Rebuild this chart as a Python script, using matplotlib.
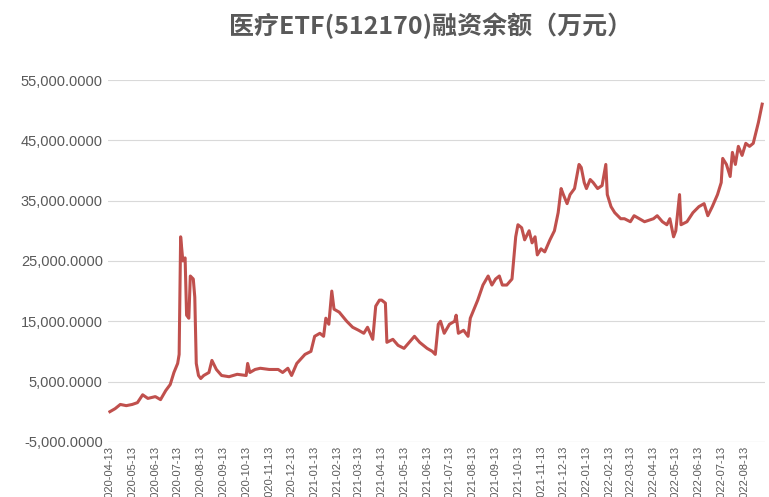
import matplotlib
matplotlib.use("Agg")
import matplotlib.pyplot as plt
import matplotlib.ticker as mticker
import pandas as pd

plt.rcParams['font.family'] = ['Noto Sans CJK SC', 'DejaVu Sans']

dates = ["2020-04-13","2020-04-20","2020-04-27","2020-05-05","2020-05-13","2020-05-20","2020-05-27","2020-06-03","2020-06-13","2020-06-20","2020-06-27","2020-07-03","2020-07-08","2020-07-13","2020-07-15","2020-07-17","2020-07-20","2020-07-23","2020-07-25","2020-07-28","2020-07-30","2020-08-03","2020-08-05","2020-08-07","2020-08-10","2020-08-13","2020-08-17","2020-08-24","2020-08-28","2020-09-03","2020-09-10","2020-09-20","2020-10-01","2020-10-13","2020-10-15","2020-10-18","2020-10-25","2020-11-01","2020-11-13","2020-11-25","2020-12-01","2020-12-08","2020-12-13","2020-12-20","2020-12-31",
"2021-01-08","2021-01-13","2021-01-20","2021-01-25","2021-01-28","2021-02-01","2021-02-05","2021-02-08","2021-02-15","2021-02-25","2021-03-05","2021-03-13","2021-03-20","2021-03-25","2021-04-01","2021-04-05","2021-04-10","2021-04-13","2021-04-18","2021-04-20","2021-04-28","2021-05-05","2021-05-13","2021-05-20","2021-05-27","2021-06-03","2021-06-13","2021-06-20","2021-06-24","2021-06-28","2021-07-01","2021-07-06","2021-07-13","2021-07-20","2021-07-22","2021-07-25","2021-08-01","2021-08-07","2021-08-10","2021-08-15","2021-08-20","2021-08-27","2021-09-03","2021-09-08","2021-09-13","2021-09-18","2021-09-22","2021-09-28","2021-10-05","2021-10-10","2021-10-13","2021-10-18","2021-10-22","2021-10-28","2021-11-01","2021-11-05","2021-11-08","2021-11-13","2021-11-18","2021-11-25","2021-12-01","2021-12-06","2021-12-10","2021-12-13","2021-12-18","2021-12-22","2021-12-28",
"2022-01-03","2022-01-06","2022-01-10","2022-01-13","2022-01-18","2022-01-22","2022-01-28","2022-02-03","2022-02-08","2022-02-10","2022-02-15","2022-02-20","2022-02-28","2022-03-05","2022-03-13","2022-03-18","2022-03-25","2022-04-01","2022-04-13","2022-04-18","2022-04-25","2022-05-01","2022-05-05","2022-05-10","2022-05-13","2022-05-18","2022-05-20","2022-05-28","2022-06-05","2022-06-13","2022-06-20","2022-06-25","2022-07-01","2022-07-08","2022-07-13","2022-07-15","2022-07-20","2022-07-25","2022-07-28","2022-08-01","2022-08-05","2022-08-10","2022-08-15","2022-08-20","2022-08-25","2022-08-28","2022-09-01","2022-09-06"]
values = [0,500,1200,1000,1200,1500,2800,2200,2500,2000,3500,4500,6500,8000,9500,29000,25000,25500,16000,15500,22500,22000,19000,8000,6000,5500,6000,6500,8500,7000,6000,5800,6200,6000,8000,6500,7000,7200,7000,7000,6500,7200,6000,8000,9500,
10000,12500,13000,12500,15500,14500,20000,17000,16500,15000,14000,13500,13000,14000,12000,17500,18500,18500,18000,11500,12000,11000,10500,11500,12500,11500,10500,10000,9500,14500,15000,13000,14500,15000,16000,13000,13500,12500,15500,17000,18500,21000,22500,21000,22000,22500,21000,21000,22000,29000,31000,30500,28500,30000,28000,29000,26000,27000,26500,28500,30000,33000,37000,36000,34500,36000,37000,
41000,40500,38000,37000,38500,38000,37000,37500,41000,36000,34000,33000,32000,32000,31500,32500,32000,31500,32000,32500,31500,31000,32000,29000,30000,36000,31000,31500,33000,34000,34500,32500,34000,36000,38000,42000,41000,39000,43000,41000,44000,42500,44500,44000,44500,46000,48000,51000]
title = "医疗ETF(512170)融资余额（万元）"

x = pd.to_datetime(dates)
fig = plt.figure(figsize=(7.69, 4.97), dpi=100)
ax = fig.add_axes([0.14, 0.111, 0.855, 0.728])
ax.plot(x, values, color="#c0504d", lw=2.2)
ax.set_ylim(-5000, 55000)
ax.set_yticks(range(-5000, 55001, 10000))
ax.yaxis.set_major_formatter(mticker.FuncFormatter(lambda v, p: f"{v:,.4f}"))
ticks = pd.date_range("2020-04-01", "2022-08-13", freq="MS") + pd.Timedelta(days=12)
ax.set_xticks(ticks)
ax.set_xticklabels([t.strftime("%Y-%m-%d") for t in ticks], rotation=90, fontsize=8,
                   color="#595959", family="Liberation Sans")
for lab in ax.get_yticklabels():
    lab.set_family("Liberation Sans")
ax.set_xlim(pd.Timestamp("2020-04-10"), pd.Timestamp("2022-09-10"))
ax.tick_params(axis='y', labelsize=10.5, colors="#595959", length=0)
ax.tick_params(axis='x', length=0, pad=3)
ax.grid(axis='y', color="#d9d9d9", lw=0.8)
for s in ax.spines.values():
    s.set_visible(False)
ax.axhline(-5000, color="#d9d9d9", lw=0.8)
fig.suptitle(title, fontsize=18, fontweight='bold', color="#595959", x=0.56, y=0.975)
fig.savefig("out.png")
